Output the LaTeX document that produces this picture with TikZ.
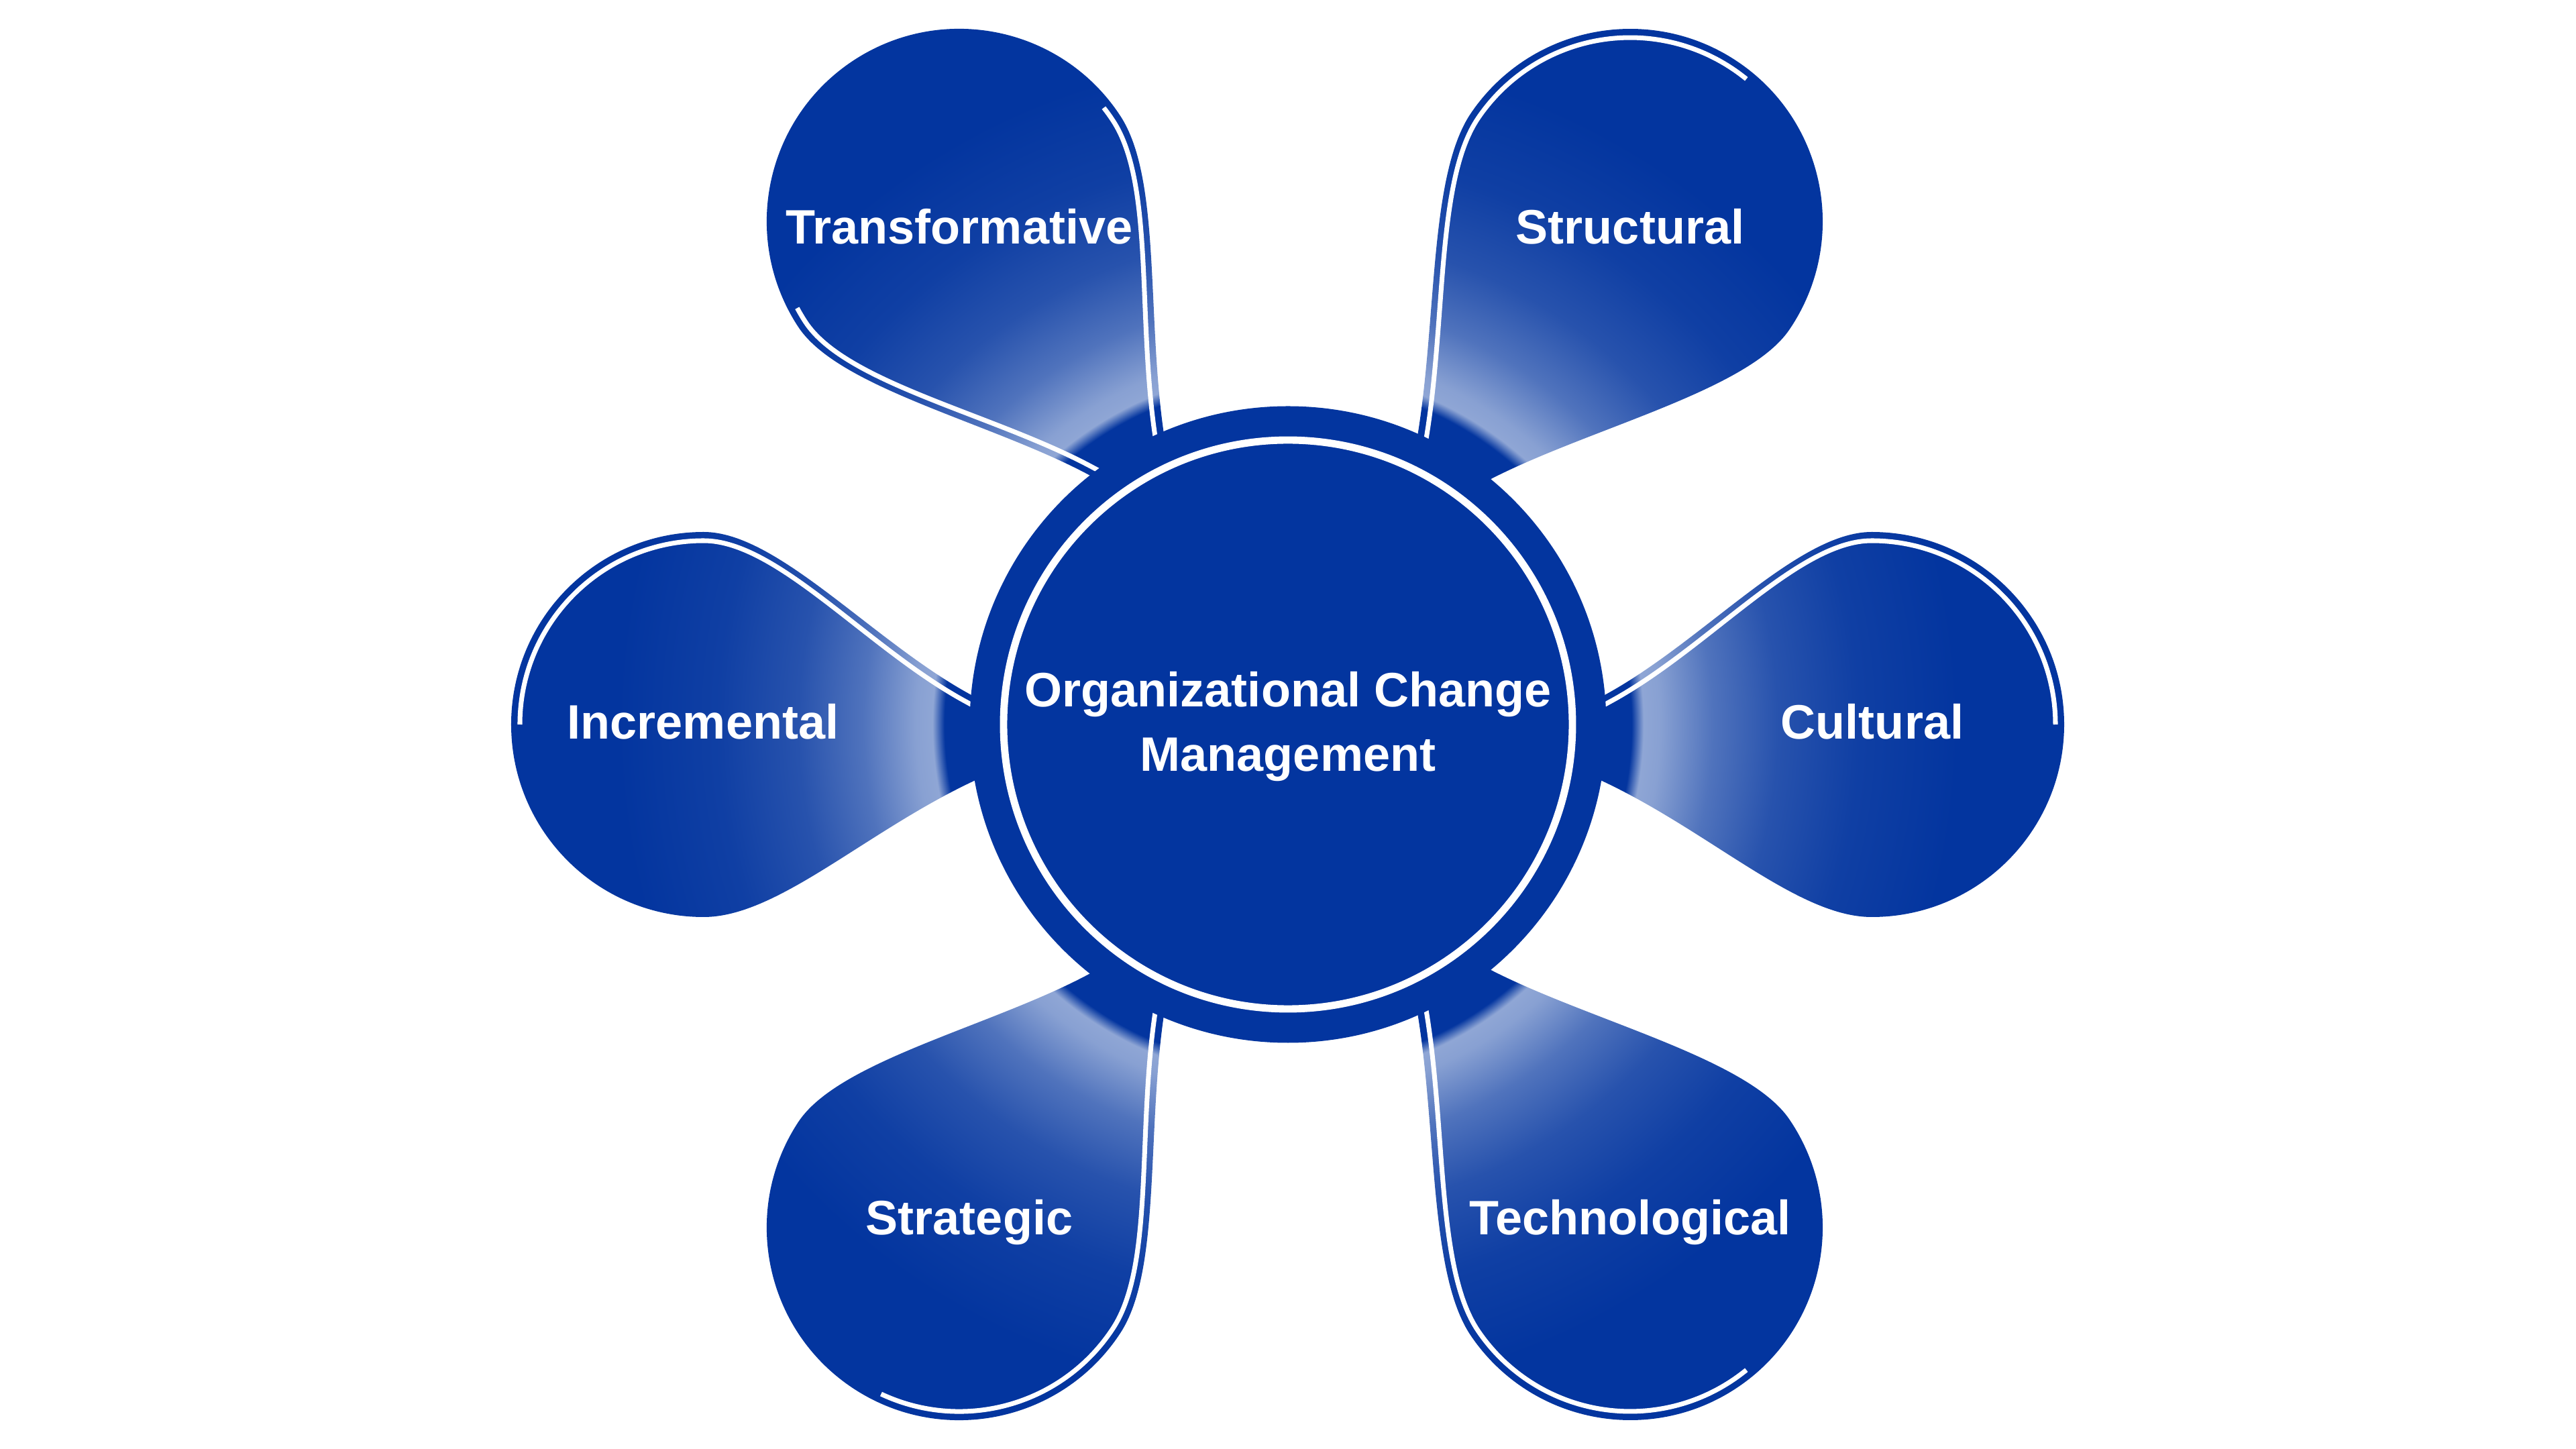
\documentclass[tikz,border=0pt]{standalone}
\usepackage{fontspec}
\setmainfont{Liberation Sans}
\definecolor{ocmblue}{RGB}{3,53,159}
\definecolor{ocmlight}{RGB}{143,166,213}
\colorlet{glowa}{ocmlight!95!ocmblue}
\colorlet{glowb}{ocmlight!55!ocmblue}
\colorlet{glowc}{ocmlight!26!ocmblue}
\colorlet{glowd}{ocmlight!9!ocmblue}
\pgfdeclareradialshading{petalglow}{\pgfpoint{0bp}{0bp}}{%
  color(0bp)=(ocmblue); color(10.24bp)=(ocmblue); color(10.6bp)=(ocmlight);
  color(11.1bp)=(glowa); color(12.66bp)=(glowb); color(14.6bp)=(glowc);
  color(17bp)=(glowd); color(20bp)=(ocmblue); color(50bp)=(ocmblue)}
% outline of one petal, pointing along +x, bulb centre at distance #1
\newcommand\petalshape[1]{(4.0,0.04) -- (4.74,0.45)
  .. controls (6.2,1.25) and ({#1-1.1},2.87) .. (#1,2.87)
  arc[start angle=90, end angle=-90, radius=2.87]
  .. controls ({#1-1.1},-2.87) and (6.3,-1.6) .. (4.68,-0.84)
  -- (4.0,-0.52) -- cycle}
\newcommand\narrowrim[2]{(4.4,0.12) -- (4.80,0.34)
  .. controls (6.26,1.13) and ({#1-1.1},2.74) .. (#1,2.74)
  arc[start angle=90, end angle=#2, radius=2.74]}
\newcommand\widerim[2]{(4.35,-0.54) -- (4.74,-0.72)
  .. controls (6.36,-1.48) and ({#1-1.1},-2.74) .. (#1,-2.74)
  arc[start angle=-90, end angle=#2, radius=2.74]}
\tikzset{
  petaltext/.style={font=\fontsize{20.5}{27.3}\selectfont\bfseries, text=white, inner sep=0pt},
  rim/.style={draw=white, line width=2pt}
}
\begin{document}
\begin{tikzpicture}
  \useasboundingbox (-19.2,-10.8) rectangle (19.2,10.8);
  \foreach \ang/\dist/\flip in {123.16/8.96/1, 55.78/9.07/-1, 180/8.71/-1,
      0/8.70/1, 236.84/8.96/-1, 304.22/9.07/1}
  {
    \begin{scope}[rotate=\ang, yscale=\flip]
      \clip \petalshape{\dist};
      \shade[shading=petalglow, reset cm] (-12.5,-12.5) rectangle (12.5,12.5);
    \end{scope}
  }
  \begin{scope}[rotate=123.16]
    \draw[rim] \narrowrim{8.96}{85};
    \draw[rim] \widerim{8.96}{-85};
  \end{scope}
  \begin{scope}[rotate=55.78, yscale=-1]
    \draw[rim] \widerim{9.07}{5};
  \end{scope}
  \begin{scope}[rotate=180, yscale=-1]
    \draw[rim] \narrowrim{8.71}{0};
  \end{scope}
  \begin{scope}[rotate=0]
    \draw[rim] \narrowrim{8.70}{0};
  \end{scope}
  \begin{scope}[rotate=236.84, yscale=-1]
    \draw[rim] \widerim{8.96}{-8};
  \end{scope}
  \begin{scope}[rotate=304.22]
    \draw[rim] \widerim{9.07}{5};
  \end{scope}

  \fill[ocmblue] (0,0) circle (4.745);
  \draw[white, line width=3.1pt] (0,0) circle (4.24);

  \node (hub) [petaltext, align=center] at (0,-0.03) {Organizational Change\\Management};
  \node (transformative) [petaltext, anchor=base] at (-4.90,7.16) {Transformative};
  \node (structural) [petaltext, anchor=base] at (5.10,7.16) {Structural};
  \node (incremental) [petaltext, anchor=base] at (-8.72,-0.22) {Incremental};
  \node (cultural) [petaltext, anchor=base] at (8.71,-0.22) {Cultural};
  \node (strategic) [petaltext, anchor=base] at (-4.75,-7.60) {Strategic};
  \node (technological) [petaltext, anchor=base] at (5.10,-7.60) {Technological};
\end{tikzpicture}
\end{document}
